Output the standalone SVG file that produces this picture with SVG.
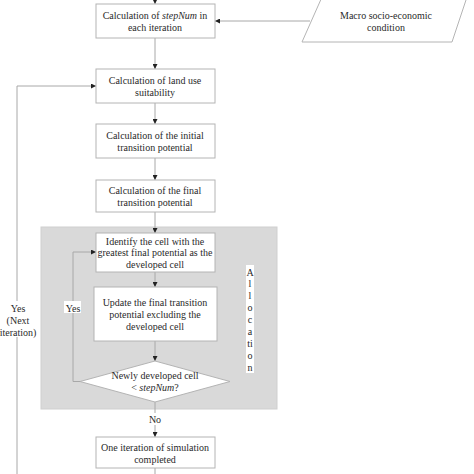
<svg xmlns="http://www.w3.org/2000/svg" width="474" height="474" viewBox="0 0 474 474">
<style>
.box{fill:#fff;stroke:#b4b4b4;stroke-width:1}
.ln{fill:none;stroke:#a8a8a8;stroke-width:1}
text{font-family:'Liberation Serif','Times New Roman',serif;font-size:10px;fill:#2a2a2a;text-anchor:middle}
</style>
<defs>
<marker id="ah" viewBox="0 0 6 6" refX="6" refY="3" markerWidth="5" markerHeight="5" orient="auto" markerUnits="userSpaceOnUse">
<path d="M0,0 L6,3 L0,6 Z" fill="#222"/>
</marker>
</defs>
<rect width="474" height="474" fill="#fff"/>
<g id="allocation-region" font-family="Liberation Serif, serif">
<rect x="41" y="227" width="236" height="182" fill="#d9d9d9" stroke="#cfcfcf"/>
<rect x="246" y="265" width="8" height="108" fill="#fff"/>
<text x="250" y="276">A</text>
<text x="250" y="287">l</text>
<text x="250" y="299">l</text>
<text x="250" y="311">o</text>
<text x="250" y="323">c</text>
<text x="250" y="335">a</text>
<text x="250" y="347">ti</text>
<text x="250" y="359">o</text>
<text x="250" y="371">n</text>
</g>
<g id="connectors">
<line class="ln" x1="155" y1="-2" x2="155" y2="4" marker-end="url(#ah)"/>
<line class="ln" x1="310" y1="21" x2="215" y2="21" marker-end="url(#ah)"/>
<line class="ln" x1="155" y1="38" x2="155" y2="69" marker-end="url(#ah)"/>
<line class="ln" x1="155" y1="103" x2="155" y2="124" marker-end="url(#ah)"/>
<line class="ln" x1="155" y1="158" x2="155" y2="180" marker-end="url(#ah)"/>
<line class="ln" x1="155" y1="212" x2="155" y2="233" marker-end="url(#ah)"/>
<line class="ln" x1="155" y1="272" x2="155" y2="287" marker-end="url(#ah)"/>
<line class="ln" x1="155" y1="341" x2="155" y2="361" marker-end="url(#ah)"/>
<line class="ln" x1="155" y1="402" x2="155" y2="437" marker-end="url(#ah)"/>
<line class="ln" x1="155" y1="468" x2="155" y2="476"/>
<polyline class="ln" points="80,381.5 73,381.5 73,252 96,252" marker-end="url(#ah)"/>
<polyline class="ln" points="17,476 17,86 96,86" marker-end="url(#ah)"/>
<rect x="64" y="301" width="17" height="12" fill="#fff"/>
<text x="73" y="312">Yes</text>
<rect x="0" y="301" width="38" height="36" fill="#fff"/>
<text x="18" y="312">Yes</text>
<text x="18" y="324">(Next</text>
<text x="18" y="336">iteration)</text>
<rect x="146" y="413" width="18" height="12" fill="#fff"/>
<text x="155" y="423">No</text>
</g>
<g id="macro">
<polygon class="box" points="322,-3 467,-3 452,42 302,42"/>
<text x="386" y="19">Macro socio-economic</text>
<text x="386" y="31">condition</text>
</g>
<g id="stepnum">
<rect class="box" x="96" y="4" width="119" height="34"/>
<text x="155" y="19">Calculation of <tspan font-style="italic">stepNum</tspan> in</text>
<text x="155" y="31">each iteration</text>
</g>
<g id="suitability">
<rect class="box" x="96" y="69" width="119" height="34"/>
<text x="155" y="84">Calculation of land use</text>
<text x="155" y="96">suitability</text>
</g>
<g id="initial">
<rect class="box" x="96" y="124" width="119" height="34"/>
<text x="155" y="139">Calculation of the initial</text>
<text x="155" y="151">transition potential</text>
</g>
<g id="final">
<rect class="box" x="96" y="180" width="119" height="32"/>
<text x="155" y="194">Calculation of the final</text>
<text x="155" y="206">transition potential</text>
</g>
<g id="identify">
<rect class="box" x="96" y="233" width="119" height="39"/>
<text x="155" y="245">Identify the cell with the</text>
<text x="155" y="256">greatest final potential as the</text>
<text x="155" y="268">developed cell</text>
</g>
<g id="update">
<rect class="box" x="94" y="287" width="123" height="54"/>
<text x="155" y="306">Update the final transition</text>
<text x="155" y="318">potential excluding the</text>
<text x="155" y="330">developed cell</text>
</g>
<g id="decision">
<polygon class="box" points="155,361 230,381.5 155,402 80,381.5"/>
<text x="155" y="379">Newly developed cell</text>
<text x="155" y="391">&lt; <tspan font-style="italic">stepNum</tspan>?</text>
</g>
<g id="completed">
<rect class="box" x="96" y="437" width="119" height="31"/>
<text x="155" y="451">One iteration of simulation</text>
<text x="155" y="463">completed</text>
</g>
</svg>
